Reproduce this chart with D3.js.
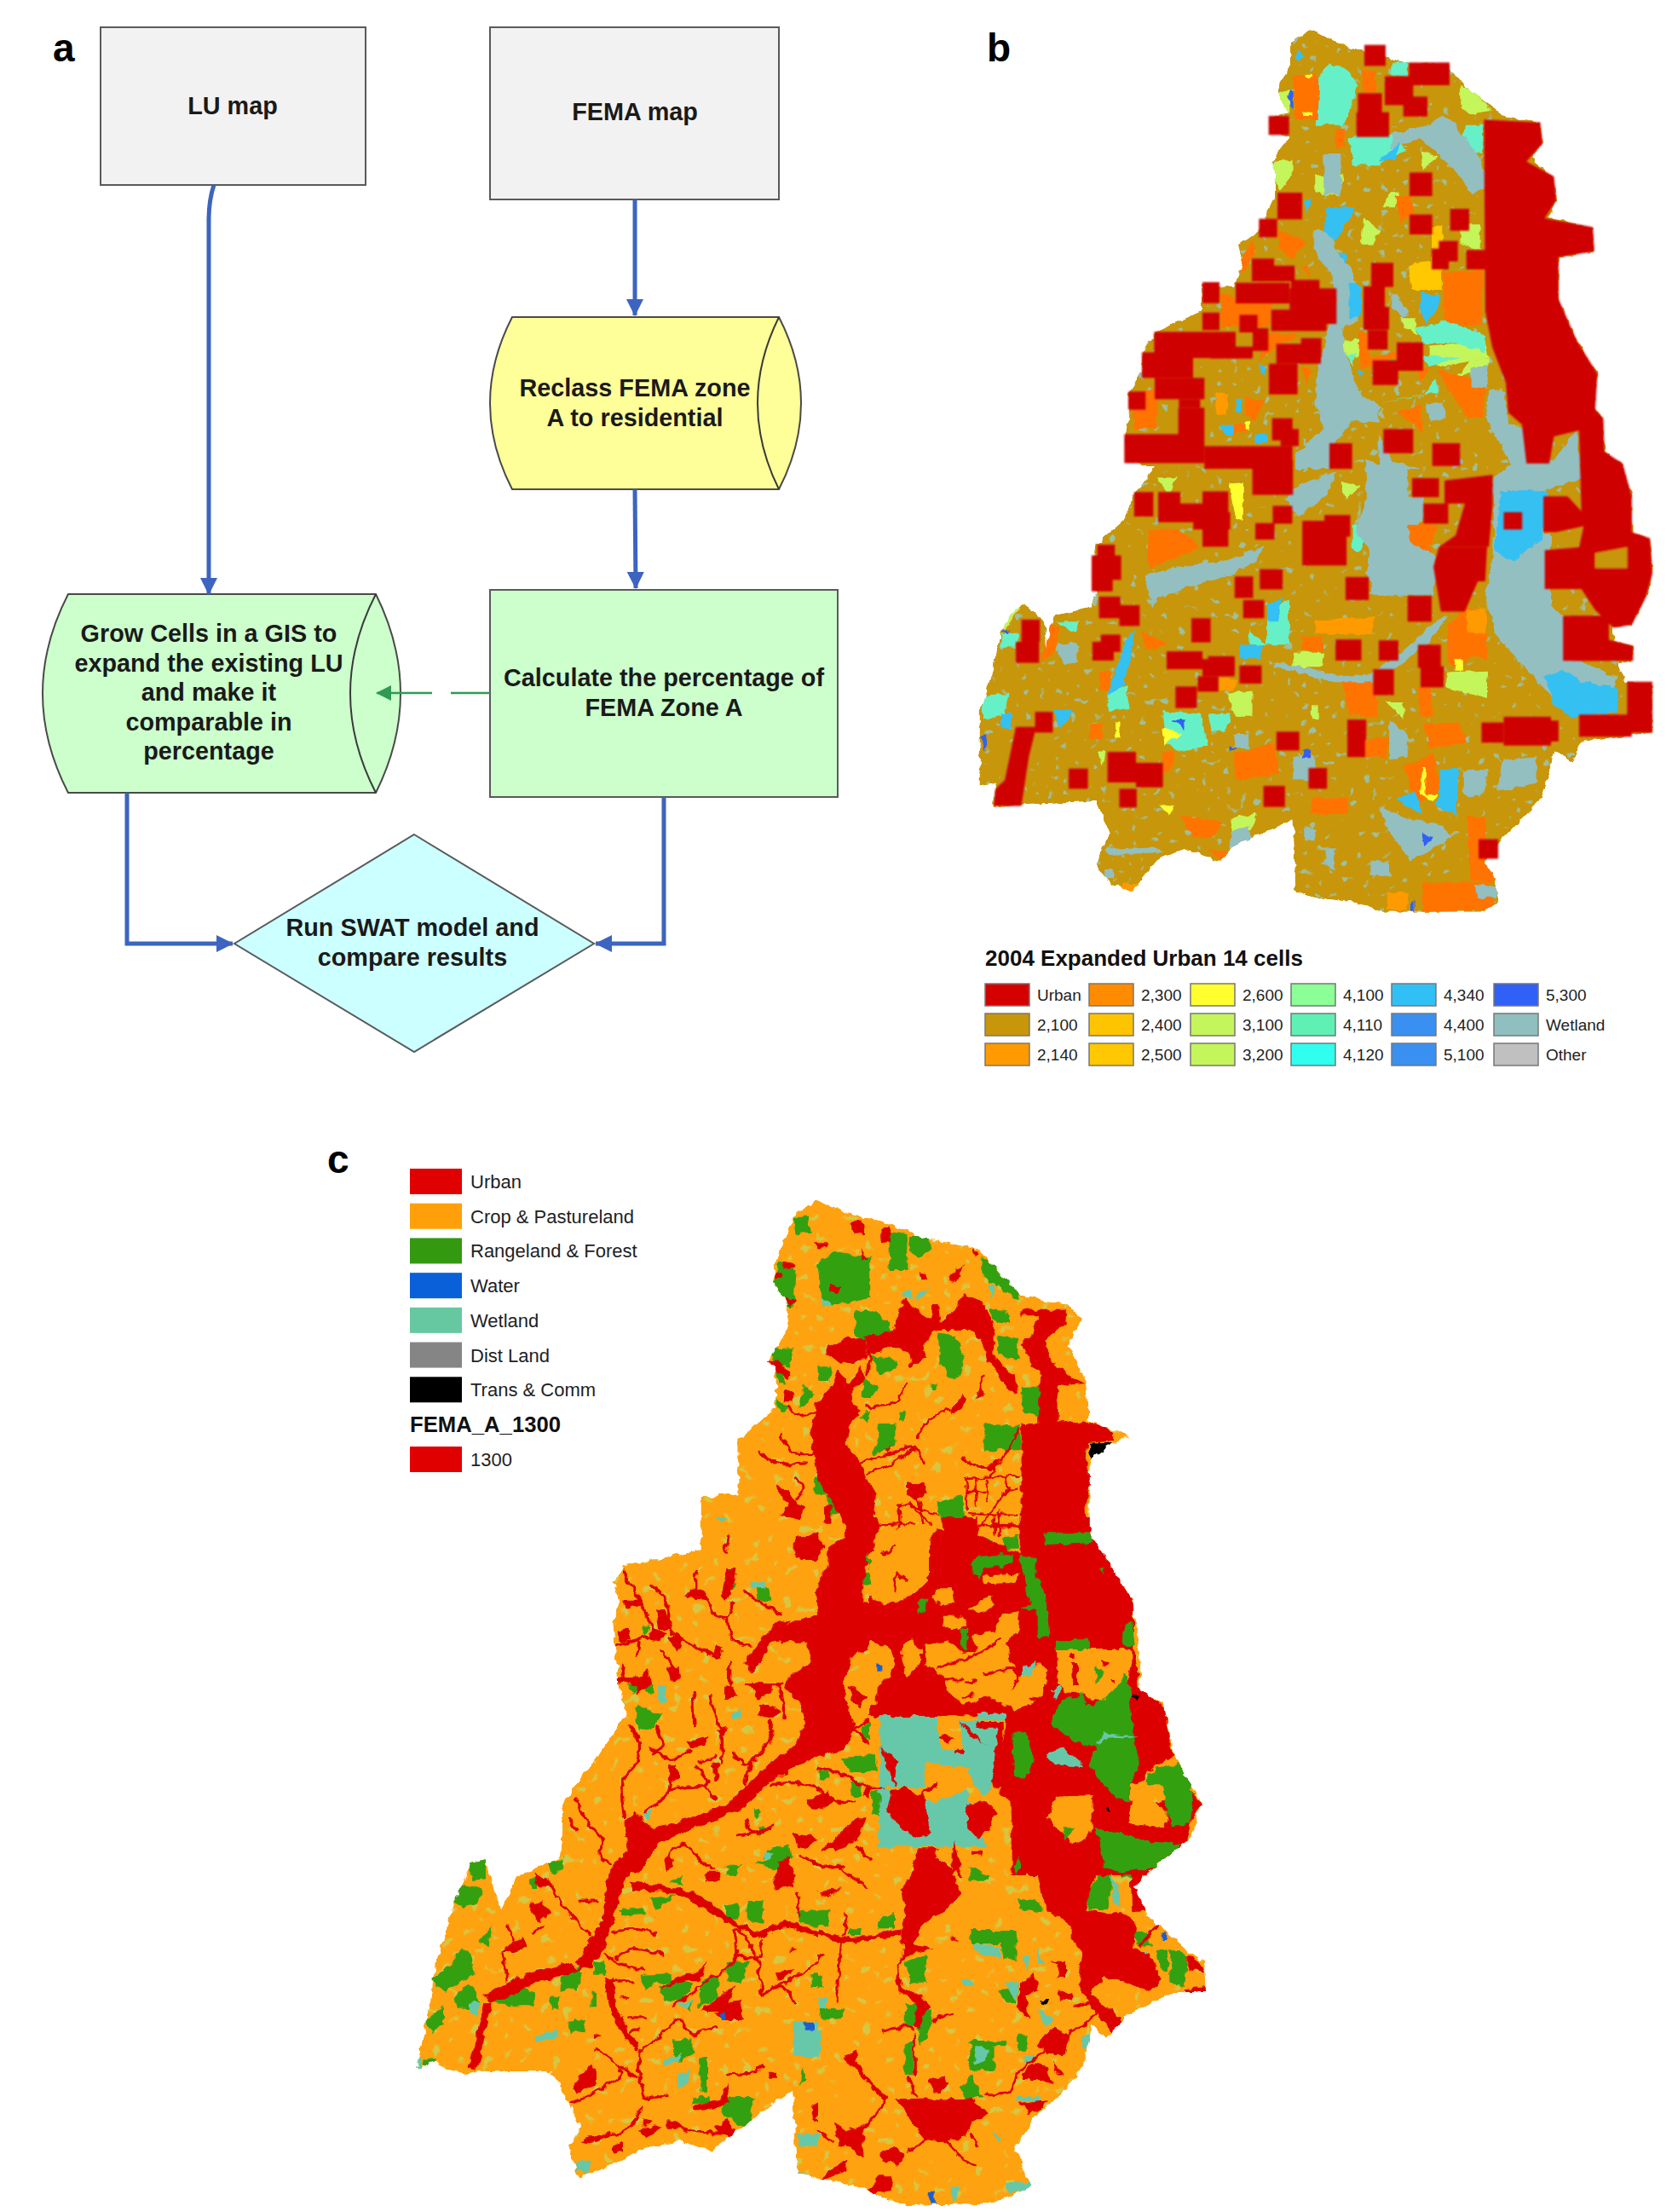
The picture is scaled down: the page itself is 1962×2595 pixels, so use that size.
<!DOCTYPE html>
<html>
<head>
<meta charset="utf-8">
<script src="https://cdn.jsdelivr.net/npm/d3@7"></script>
<style>
  body { margin: 0; background: #fff; }
  text { font-family: "Liberation Sans", Arial, sans-serif; }
</style>
</head>
<body>
<div id="chart"></div>
<script>
// legend tables
const legendBLabels = ['Urban', '2,100', '2,140', '2,300', '2,400', '2,500', '2,600', '3,100', '3,200', '4,100', '4,110', '4,120', '4,340', '4,400', '5,100', '5,300', 'Wetland', 'Other']
const legendBColors = ['#d40000', '#c8960a', '#ff9a00', '#ff8c00', '#ffc400', '#ffc800', '#ffff30', '#c4f55a', '#c4f55a', '#8cff96', '#5ff0b4', '#30fff0', '#30c0f5', '#3a90f0', '#3a90f0', '#3060f5', '#8fbfbf', '#c0c0c0']
const legendCLabels = ['Urban', 'Crop & Pastureland', 'Rangeland & Forest', 'Water', 'Wetland', 'Dist Land', 'Trans & Comm']
const legendCColors = ['#e00000', '#ffa00a', '#339910', '#0a60d8', '#66c8a0', '#858585', '#000000']

// ---- map b, whole map, in map units (0-1568 both ways) ----
const bOutline = [[735,70],[780,50],[830,70],[895,85],[940,95],[990,105],[1080,110],[1110,140],[1170,175],[1200,195],[1280,205],[1285,240],[1260,265],[1310,295],[1315,335],[1300,365],[1395,380],[1398,420],[1320,430],[1320,500],[1360,570],[1405,625],[1400,685],[1418,700],[1420,755],[1460,775],[1480,830],[1480,890],[1520,900],[1525,960],[1510,1000],[1480,1045],[1440,1050],[1440,1070],[1483,1080],[1483,1105],[1450,1110],[1465,1140],[1525,1145],[1525,1225],[1420,1235],[1370,1240],[1350,1275],[1310,1255],[1300,1290],[1280,1340],[1240,1370],[1190,1410],[1160,1440],[1180,1470],[1190,1510],[1150,1525],[1040,1525],[940,1525],[880,1510],[780,1500],[745,1490],[740,1370],[700,1385],[620,1410],[580,1440],[500,1420],[440,1440],[390,1490],[350,1480],[310,1450],[320,1420],[340,1395],[310,1340],[140,1345],[85,1350],[90,1310],[55,1315],[55,1190],[80,1130],[100,1060],[130,1020],[150,1010],[200,1040],[200,1085],[215,1030],[300,1015],[310,990],[300,960],[310,910],[370,870],[390,830],[420,800],[440,780],[375,770],[372,730],[385,680],[380,660],[410,620],[410,590],[440,555],[540,520],[540,475],[610,480],[630,440],[620,410],[665,385],[700,330],[700,290],[690,270],[730,230],[690,220],[690,195],[730,190],[705,150],[735,110]]
const bWetland = [[[1310,770],[1360,720],[1370,800],[1290,820],[1290,1000],[1340,1040],[1350,1100],[1440,1130],[1450,1190],[1370,1200],[1320,1180],[1240,1110],[1180,1060],[1170,980],[1180,890],[1175,800],[1250,760]]]
const bSky = [[[1210,820],[1290,820],[1285,900],[1220,940],[1180,920],[1190,840]],[[1290,1130],[1330,1120],[1370,1140],[1450,1150],[1450,1190],[1350,1200],[1310,1180]]]
const bUrbanCells = [[1470,1140,1525,1225],[1365,1195,1480,1232],[1290,1205,1320,1240],[1330,1030,1430,1105]]
const bUrbanShapes = [
  [[1157,200],[1280,205],[1285,240],[1250,270],[1310,295],[1315,335],[1290,365],[1395,380],[1398,420],[1320,430],[1320,500],[1360,570],[1405,625],[1400,685],[1418,700],[1420,755],[1460,775],[1480,830],[1480,890],[1520,900],[1525,960],[1510,1000],[1480,1045],[1440,1050],[1400,1020],[1370,985],[1290,985],[1290,920],[1365,915],[1375,880],[1315,890],[1287,890],[1287,830],[1340,830],[1370,855],[1365,720],[1310,730],[1300,775],[1250,775],[1240,710],[1210,690],[1205,640],[1175,580],[1160,520]],
  [[1345,1030],[1430,1030],[1430,1070],[1483,1080],[1483,1105],[1350,1105]]
]
const bBrownHoles = [[[1400,925],[1470,915],[1470,950],[1400,950]]]

// ---- map b, north crop ----
const bnLime = [[[590,240],[640,220],[640,310],[600,310]],[[580,480],[650,470],[650,530],[610,580],[570,520]],[[730,530],[830,520],[810,600],[730,590]],[[1240,210],[1290,230],[1350,300],[1280,310],[1240,290]],[[1240,700],[1310,700],[1310,790],[1240,770],[1240,745]],[[1130,1130],[1330,1110],[1340,1170],[1170,1200],[1130,1170]],[[1100,440],[1160,460],[1110,510]],[[830,1110],[890,1100],[880,1170],[830,1160]],[[1030,1030],[1080,1030],[1090,1090],[1050,1070]],[[900,680],[960,720],[930,770],[890,770]],[[990,590],[1030,580],[1010,640],[970,640]],[[1220,1240],[1280,1180],[1340,1170],[1340,1200]]]
const bnTeal = [[[720,220],[780,130],[850,160],[880,210],[860,280],[830,350],[735,350]],[[850,390],[1000,380],[1050,440],[950,490],[860,490]],[[1260,350],[1320,350],[1320,450],[1240,440]],[[1080,1060],[1200,1040],[1330,1090],[1330,1150],[1230,1120],[1110,1120]],[[1100,1160],[1240,1170],[1130,1200]],[[1000,130],[1055,130],[1055,180],[1000,175]],[[950,1330],[1120,1300],[1150,1240],[1160,1290],[1050,1310]],[[840,1160],[870,1160],[860,1200]]]
const bnOrange = [[[1180,870],[1320,860],[1315,1050],[1280,1060],[1180,1040]],[[650,180],[720,170],[745,190],[740,330],[660,330]],[[895,160],[945,160],[945,235],[895,235]],[[800,360],[835,360],[835,430],[800,430]],[[470,820],[510,750],[520,800],[470,880]],[[1010,600],[1060,600],[1080,660],[1030,690]],[[395,940],[450,960],[580,960],[570,1060],[400,1060]],[[570,1080],[680,1090],[590,1130],[530,1180]],[[680,1200],[720,1210],[700,1260]],[[880,1080],[920,1080],[920,1170],[1010,1150],[1020,1170],[890,1210]],[[1090,1210],[1140,1205],[1100,1260]],[[1160,1210],[1330,1260],[1320,1380],[1270,1380],[1210,1300]],[[490,1310],[550,1320],[520,1390],[480,1370]],[[90,1300],[180,1270],[170,1420],[90,1420]],[[440,1400],[490,1400],[490,1430],[440,1440]],[[600,720],[700,760],[650,820],[600,790]],[[1010,1360],[1100,1340],[1110,1430]],[[690,850],[710,850],[710,890]]]
const bnAmber = [[[380,1290],[420,1300],[420,1370],[380,1370]]]
const bnGold = [[[1060,840],[1140,830],[1140,710],[1180,710],[1175,930],[1065,930]]]
const bnYellow = [[[695,170],[720,170],[720,180],[695,180]],[[685,305],[720,305],[720,318],[685,318]],[[485,1395],[505,1390],[500,1425],[485,1420]]]
const bnWet = [[[1130,350],[1180,310],[1240,370],[1300,450],[1320,500],[1350,560],[1280,590],[1250,540],[1150,440],[1100,400],[1000,430],[1000,380]],[[740,1180],[830,1130],[880,1290],[960,1340],[950,1400],[860,1390],[800,1470],[780,1560],[660,1560],[660,1510],[760,1420],[730,1330]],[[720,720],[790,720],[800,790],[860,860],[880,960],[880,1040],[830,1060],[830,1130],[745,1190],[800,960],[790,880],[730,800]],[[760,450],[820,450],[820,600],[760,590]],[[1340,1280],[1400,1290],[1410,1400],[1480,1420],[1480,1560],[1430,1560],[1330,1380]],[[1000,940],[1020,950],[1060,1010],[1040,1030],[1000,990]],[[1280,1200],[1340,1200],[1330,1280],[1280,1270]],[[1120,1330],[1180,1330],[1190,1380],[1130,1390]],[[950,1440],[960,1560],[1100,1560],[1000,1530]],[[1210,1480],[1250,1540],[1210,1560]]]
const bnSky = [[[690,620],[715,610],[705,660]],[[770,640],[870,640],[850,680],[800,760],[760,720]],[[810,800],[840,800],[840,840]],[[850,900],[890,920],[890,1020],[850,1030]],[[950,480],[1030,410],[1010,470]],[[1100,940],[1170,950],[1160,1000],[1120,1050],[1100,1000]],[[400,1410],[440,1400],[440,1440],[410,1440]],[[520,1440],[560,1430],[560,1470],[520,1470]],[[450,1310],[470,1310],[470,1360],[450,1360]],[[670,90],[690,110],[670,130],[655,110]],[[530,1190],[550,1200],[550,1240]],[[880,1210],[900,1220],[890,1240]]]
const bnBlue = [[[635,220],[650,230],[650,290],[640,280]]]
const bnCells = [[903,68,978,142],[1060,130,1203,210],[975,178,1075,280],[1040,250,1125,320],[880,238,965,320],[875,305,990,392],[566,318,638,385],[1062,517,1142,600],[597,588,684,682],[532,680,596,745],[1062,665,1142,735],[1205,645,1272,722],[1165,758,1232,830],[1140,785,1200,858],[1262,790,1330,858],[927,835,1005,920],[507,820,585,900],[585,845,658,900],[450,905,640,978],[333,903,393,977],[333,1010,393,1072],[645,895,745,960],[640,925,805,1050],[575,1000,770,1075],[463,1018,527,1080],[510,1065,565,1145],[163,1078,450,1170],[360,1130,510,1172],[120,1150,300,1240],[165,1240,340,1315],[593,1120,750,1190],[680,1100,752,1165],[567,1190,668,1298],[72,1288,133,1352],[250,1315,325,1345],[900,918,975,1070],[900,990,990,1070],[915,1072,985,1140],[1017,1115,1110,1215],[932,1178,1022,1265],[248,1345,340,1440],[578,1382,650,1460],[608,1420,672,1480],[58,1438,340,1540],[340,1480,650,1560],[970,1420,1075,1505],[780,1470,860,1560],[1142,1470,1240,1550]]

// ---- map b, south crop ----
const bsLime = [[[500,60],[560,60],[530,110]],[[870,665],[955,665],[950,720],[870,720]],[[690,810],[760,800],[760,890],[715,890]],[[1285,735],[1395,730],[1395,825],[1285,790]],[[920,850],[940,850],[940,900],[920,900]],[[60,520],[130,510],[90,590]],[[1000,70],[1050,90],[1010,140]],[[700,1240],[770,1230],[760,1280],[700,1290]],[[1120,840],[1170,840],[1170,900]],[[340,1010],[360,1010],[355,1060]]]
const bsTeal = [[[1030,220],[1075,230],[1050,320],[1030,310]],[[520,870],[620,880],[640,990],[560,1010],[520,980]],[[80,600],[130,600],[120,650],[80,650]],[[30,820],[100,810],[90,880],[30,900]],[[800,540],[860,480],[860,640],[800,640]],[[370,810],[420,780],[430,860],[370,870]],[[640,880],[700,880],[690,940],[650,940]],[[750,590],[800,640],[750,640]],[[230,560],[290,560],[280,600]]]
const bsOrange = [[[475,240],[560,240],[620,300],[530,350],[480,370]],[[1180,220],[1260,225],[1240,300],[1250,330],[1220,360],[1200,330],[1180,320]],[[1290,570],[1340,510],[1395,520],[1395,690],[1350,680],[1310,720],[1285,700]],[[895,610],[950,610],[950,660],[895,660]],[[1000,760],[1090,750],[1100,895],[1020,880]],[[1225,915],[1320,910],[1340,980],[1240,1000]],[[710,1020],[820,980],[830,1060],[830,1090],[715,1110]],[[920,1170],[1020,1170],[1020,1225],[920,1225]],[[1060,970],[1130,960],[1120,1030],[1060,1030]],[[1170,1060],[1250,1020],[1270,1140],[1200,1200]],[[1340,1230],[1390,1240],[1400,1400],[1420,1465],[1350,1460]],[[1220,1465],[1400,1465],[1420,1560],[1220,1568]],[[350,730],[375,730],[375,800],[345,800]],[[560,1230],[680,1260],[650,1310],[600,1310]],[[640,1350],[700,1360],[670,1390]],[[460,590],[530,640],[470,660]],[[320,915],[355,915],[355,970],[320,970]],[[520,1010],[550,1010],[540,1080],[515,1080]],[[1210,790],[1240,790],[1250,890],[1215,890]],[[210,570],[240,580],[225,670],[190,700]]]
const bsAmber = [[[930,555],[1090,545],[1085,610],[930,600]],[[670,750],[720,760],[710,800],[670,800]],[[410,1470],[450,1470],[430,1505],[405,1490]],[[1125,1500],[1180,1500],[1180,1560],[1125,1560]],[[1340,520],[1395,510],[1395,600],[1340,600]]]
const bsYellow = [[[695,80],[735,80],[735,210],[715,200]],[[515,930],[570,950],[520,985]],[[1310,690],[1330,690],[1330,730],[1310,730]],[[1220,1065],[1230,1065],[1225,1160],[1215,1160]],[[510,1190],[550,1200],[530,1235]],[[390,910],[400,910],[400,965],[390,965]],[[1215,1160],[1260,1160],[1250,1185]]]
const bsWet = [[[1065,0],[1180,30],[1180,120],[1225,130],[1220,215],[1180,230],[1190,290],[1260,330],[1250,470],[1170,470],[1090,470],[1070,400],[1075,300],[1040,250],[1070,130]],[[1420,280],[1568,250],[1568,720],[1480,700],[1410,560],[1390,490],[1400,400]],[[860,100],[960,50],[990,40],[960,120],[890,190],[860,170]],[[470,400],[560,370],[680,350],[790,300],[770,350],[700,400],[580,440],[500,480],[490,520]],[[230,640],[285,630],[290,700],[250,710]],[[820,700],[900,720],[1000,750],[1080,740],[1180,650],[1240,580],[1270,550],[1290,540],[1230,640],[1100,770],[980,770],[870,730],[820,720]],[[1100,1200],[1170,1240],[1280,1270],[1300,1310],[1220,1370],[1190,1390],[1130,1290]],[[870,1030],[930,1020],[930,1110],[870,1110]],[[1330,1080],[1400,1070],[1380,1170],[1330,1160]],[[1440,1040],[1530,1030],[1530,1120],[1420,1150]],[[710,950],[750,950],[750,1000],[715,1000]],[[1130,900],[1180,950],[1180,1030],[1130,1040]],[[360,1350],[500,1340],[520,1360],[370,1370]],[[700,1290],[750,1270],[760,1330],[700,1350]],[[360,1420],[385,1420],[385,1450],[360,1450]],[[1080,1390],[1130,1390],[1130,1440],[1080,1440]],[[960,1350],[985,1350],[985,1420],[950,1400]],[[900,1270],[930,1280],[930,1320],[900,1320]],[[1360,1470],[1420,1480],[1420,1520],[1370,1520]]]
const bsSky = [[[1430,110],[1560,110],[1560,200],[1500,280],[1440,280]],[[800,500],[840,480],[830,560],[800,560]],[[380,760],[420,620],[440,590],[430,700],[410,780],[370,820]],[[220,870],[280,870],[240,930]],[[80,880],[110,880],[105,930],[80,930]],[[725,640],[790,640],[780,690],[725,690]],[[1270,1070],[1320,1070],[1310,1240],[1260,1200]],[[1150,1180],[1200,1150],[1220,1230]]]
const bsBlue = [[[1218,1290],[1250,1310],[1225,1340]],[[895,1005],[918,1005],[918,1033],[895,1033]],[[545,900],[575,900],[575,935]],[[700,985],[720,1000],[700,1005]],[[1190,1530],[1198,1530],[1198,1568],[1190,1568]],[[80,590],[105,590],[100,605]],[[25,960],[45,950],[35,1010]]]
const bsCells = [[440,110,492,195],[505,110,565,215],[565,150,625,215],[625,108,695,300],[600,180,700,240],[815,158,868,220],[768,218,820,275],[895,210,1015,365],[955,190,1025,265],[340,293,388,370],[325,330,405,415],[325,380,382,455],[345,473,403,548],[400,503,455,575],[712,403,762,478],[780,378,842,448],[735,485,792,548],[1012,405,1075,485],[1180,470,1245,560],[135,553,185,630],[120,630,183,703],[350,605,403,665],[327,630,385,695],[595,548,647,632],[528,663,625,725],[625,690,712,750],[640,680,712,740],[612,750,668,803],[725,712,785,775],[552,785,610,860],[985,622,1055,695],[1102,625,1155,695],[1087,725,1143,815],[1208,640,1270,720],[1215,715,1278,788],[1017,900,1068,970],[1017,965,1065,1030],[825,942,887,1007],[172,873,220,945],[368,1012,445,1118],[445,1050,518,1135],[263,1070,315,1140],[400,1140,447,1205],[790,1130,848,1203],[912,1068,962,1140],[1372,1315,1425,1383],[1192,62,1265,128],[1223,150,1290,220],[1440,180,1490,240],[1380,910,1440,980],[1440,890,1568,990],[760,0,870,120]]
const bsShapes = [[[1265,300],[1395,300],[1390,420],[1370,420],[1335,525],[1270,525],[1250,370]],[[1280,70],[1410,50],[1410,155],[1400,300],[1265,300],[1310,260],[1335,150],[1280,150]],[[120,925],[175,925],[155,1030],[135,1200],[60,1200],[65,1140],[90,1110]]]

// ---- map c, whole outline in map units (0-1568 both ways) ----
const cOutline = [[755,60],[795,35],[850,55],[930,70],[1000,95],[1100,110],[1180,180],[1270,195],[1295,215],[1270,255],[1305,315],[1310,370],[1385,392],[1340,410],[1310,430],[1310,540],[1350,590],[1390,640],[1405,730],[1405,780],[1450,800],[1470,880],[1520,950],[1500,1000],[1440,1040],[1395,1075],[1420,1120],[1490,1170],[1525,1190],[1528,1235],[1470,1235],[1380,1270],[1340,1305],[1315,1285],[1300,1340],[1270,1380],[1210,1420],[1170,1470],[1200,1530],[1130,1555],[955,1558],[880,1530],[760,1510],[752,1385],[690,1420],[600,1475],[540,1460],[480,1470],[400,1500],[350,1515],[330,1470],[355,1440],[330,1400],[300,1355],[160,1355],[130,1360],[80,1340],[45,1350],[70,1260],[80,1200],[115,1100],[150,1040],[175,1035],[205,1110],[235,1060],[315,1030],[320,990],[320,950],[385,880],[440,810],[425,770],[415,680],[425,640],[415,615],[435,590],[580,565],[580,485],[650,480],[650,400],[720,350],[720,290],[705,280],[745,230],[740,190],[715,160],[720,130]]
const cTrans = [[[1310,405],[1355,403],[1340,420],[1312,430]]]

// ---- map c, north east crop ----
const neGreen = [[[150,80],[200,80],[205,140],[155,145]],[[470,130],[540,150],[535,270],[475,270]],[[545,150],[610,150],[620,195],[575,225],[545,205]],[[785,225],[850,260],[925,340],[915,375],[860,340],[795,290]],[[100,240],[155,270],[150,400],[90,395],[80,320]],[[230,250],[290,200],[350,220],[410,220],[410,370],[250,400]],[[360,420],[425,410],[470,450],[490,500],[440,560],[360,500]],[[640,490],[700,500],[730,580],[720,640],[690,655],[650,600]],[[75,545],[150,540],[135,610],[80,600]],[[90,620],[120,625],[120,670],[95,670]],[[230,610],[275,610],[270,660],[235,660]],[[380,650],[440,680],[420,720],[380,720]],[[180,670],[220,710],[190,740],[165,760]],[[90,720],[130,750],[125,770],[100,770]],[[300,710],[335,720],[330,750],[305,755]],[[370,790],[410,760],[400,810]],[[440,810],[495,810],[495,880],[470,900],[420,920],[440,850]],[[800,810],[920,820],[925,900],[800,905]],[[815,405],[880,420],[880,460],[830,450]],[[840,500],[915,510],[915,580],[850,570]],[[925,680],[985,680],[990,780],[930,770]],[[220,1000],[255,1005],[255,1060],[225,1060]],[[255,1060],[310,1080],[315,1125],[280,1130]],[[640,1085],[725,1065],[730,1170],[690,1210],[650,1160]],[[1010,1195],[1170,1195],[1170,1235],[1005,1240]],[[780,1210],[830,1220],[830,1260],[780,1260]],[[860,1210],[915,1205],[915,1250],[860,1250]],[[930,1205],[990,1205],[930,1235]],[[410,570],[490,580],[500,610],[440,640]],[[510,770],[535,770],[530,805],[505,805]],[[615,670],[635,665],[635,690],[615,690]]]
const neWet = [[[520,340],[550,340],[550,365],[520,365]],[[570,350],[610,330],[570,380]],[[810,320],[830,320],[820,370]],[[240,360],[290,400],[250,400]],[[960,900],[990,880],[990,940],[950,960]],[[980,1090],[1020,1100],[1020,1130],[990,1120]],[[960,810],[990,820],[985,850],[960,840]]]
const neRed = [[[530,370],[550,400],[610,440],[620,390],[640,390],[650,450],[700,410],[730,355],[770,370],[800,390],[830,460],[835,570],[880,630],[905,640],[915,710],[880,690],[850,640],[810,590],[790,520],[750,480],[640,480],[590,530],[600,580],[550,610],[540,560],[470,540],[440,560],[400,570],[390,500],[490,490],[500,430]],[[260,545],[320,510],[390,510],[400,570],[350,600],[300,590],[260,570]],[[225,740],[280,680],[300,620],[340,670],[380,600],[395,650],[350,690],[350,740],[380,770],[340,810],[330,880],[385,960],[395,1000],[430,1060],[420,1130],[435,1180],[420,1260],[340,1260],[325,1230],[325,1170],[290,1110],[240,1030],[220,950],[205,820],[220,790]],[[925,410],[1080,410],[1075,460],[1000,520],[1030,590],[1090,640],[1145,670],[1050,675],[1050,800],[1190,810],[1240,840],[1240,870],[1150,880],[1145,960],[1165,1000],[1145,1090],[1150,1190],[1005,1190],[925,1200],[925,810],[985,810],[985,680],[1000,640],[950,590],[925,530],[960,500],[985,430],[925,430]],[[620,1200],[640,1180],[700,1210],[760,1190],[780,1260],[610,1260]],[[90,1030],[130,1040],[160,1090],[190,1110],[170,1150],[100,1130],[130,1100],[100,1060]],[[540,1020],[590,1020],[600,1060],[570,1080],[540,1060]],[[250,1100],[280,1100],[280,1160],[250,1160]],[[690,750],[730,700],[735,740],[700,770],[680,770]],[[770,700],[795,680],[790,710],[775,725]],[[150,1210],[215,1210],[240,1260],[150,1260]],[[55,590],[100,590],[135,630],[130,650],[80,620]],[[120,690],[145,700],[150,730],[115,730]],[[445,130],[475,115],[480,170],[450,175]],[[85,280],[105,280],[105,300],[85,300]],[[120,370],[155,375],[140,395],[115,385]],[[110,240],[150,250],[140,270],[115,265]],[[580,280],[600,285],[605,310],[585,305]],[[680,290],[725,250],[715,290],[690,310]],[[345,110],[385,90],[390,140],[350,145]],[[220,175],[265,175],[260,190],[225,190]],[[270,320],[310,330],[300,350],[270,350]],[[380,190],[400,230],[385,240]],[[760,190],[780,215],[765,225]],[[460,900],[480,890],[470,915]]]
const neRivers = [[[130,750],[170,780],[220,770]],[[400,750],[500,730],[530,670]],[[380,945],[470,920],[560,895],[590,950]],[[400,985],[470,960],[560,895]],[[570,860],[620,790],[680,760]],[[780,710],[800,640]],[[35,915],[90,950],[190,950]],[[105,850],[140,910],[220,915]],[[400,640],[410,570]],[[160,1000],[180,1040],[160,1070]],[[725,930],[770,960],[830,960],[860,930]],[[860,930],[920,830]]]
const neRoads = [[[735,1005],[915,995]],[[735,1005],[740,1110]],[[770,1010],[775,1100]],[[735,1050],[810,1050]],[[810,1010],[805,1080]],[[870,1000],[880,1040],[915,1040]],[[880,1040],[820,1120],[790,1170]],[[750,1130],[915,1130]],[[790,1170],[915,1165]],[[850,1120],[850,1200]],[[830,960],[820,1000]],[[500,1090],[640,1130]],[[540,1090],[620,1170]],[[570,1070],[590,1160]],[[510,1090],[510,1170],[470,1180]],[[440,1170],[560,1160]],[[925,970],[1040,1090],[1140,1090]]]

// ---- map c, west middle crop ----
const wmGreen = [[[325,660],[350,670],[380,690],[410,690],[380,740],[330,750],[315,720]],[[290,590],[320,580],[335,600],[310,630]],[[350,590],[380,590],[375,620],[350,620]],[[740,230],[780,250],[800,300],[750,290]],[[1095,180],[1140,190],[1150,240],[1100,230]],[[1100,120],[1140,120],[1140,180]],[[1040,850],[1160,830],[1170,890],[1080,900]],[[960,890],[1000,890],[1000,920],[965,925]],[[1070,930],[1110,930],[1110,980],[1080,980]],[[1150,970],[1200,950],[1200,1060],[1150,1040]],[[780,1170],[860,1150],[870,1200],[800,1230],[770,1200]],[[10,1210],[60,1200],[70,1240],[20,1260]],[[650,1220],[680,1220],[670,1260],[640,1260]],[[1110,740],[1140,720],[1140,780],[1120,790]],[[730,1020],[760,1040],[740,1060]],[[345,385],[365,385],[355,420]],[[750,1090],[770,1090],[760,1120]],[[645,230],[670,230],[660,265]]]
const wmWet = [[[1170,710],[1200,700],[1200,1150],[1175,1160],[1170,960],[1190,840]],[[340,1050],[380,1030],[370,1070]],[[395,590],[425,590],[420,650],[400,650]],[[720,230],[770,220],[770,250],[730,250]],[[660,680],[690,670],[690,710],[660,710]],[[600,0],[640,0],[620,20]],[[770,1180],[800,1180],[780,1240]]]
const wmRed = [[[1000,100],[1060,70],[1080,0],[1170,0],[1180,40],[1140,120],[1120,220],[1120,300],[1200,310],[1200,430],[1080,490],[1050,580],[1060,650],[1090,750],[1050,820],[960,840],[880,880],[780,940],[700,1020],[620,1060],[480,1110],[400,1150],[330,1250],[230,1260],[290,1170],[280,1070],[320,1040],[370,1090],[440,1080],[560,1040],[640,1010],[690,960],[780,880],[880,800],[910,720],[900,660],[840,600],[860,560],[940,510],[920,440],[830,440],[800,400],[850,380],[960,340],[950,260],[990,180]],[[700,510],[760,430],[820,360],[860,370],[840,420],[790,450],[760,510],[720,545]],[[880,90],[960,50],[980,100],[960,150],[900,150],[880,130]],[[270,290],[330,290],[340,310],[280,325]],[[390,320],[420,320],[440,390],[400,400]],[[255,400],[290,395],[300,430],[265,440]],[[370,390],[430,410],[400,430],[365,425]],[[435,420],[490,420],[470,470],[445,450]],[[430,530],[470,530],[475,570],[440,575]],[[640,180],[670,180],[660,240],[640,300],[620,270]],[[600,450],[625,460],[620,495],[590,490]],[[510,260],[560,260],[580,290],[490,280]],[[730,590],[800,590],[800,610],[745,640]],[[750,660],[800,660],[830,690],[790,710],[750,700]],[[630,600],[660,595],[680,630],[630,640]],[[600,750],[640,740],[620,790]],[[490,790],[570,770],[570,800],[510,810]],[[440,880],[465,870],[465,925],[440,930]],[[590,860],[610,860],[610,930],[595,930]],[[1070,590],[1130,630],[1110,670],[1080,640]],[[920,1000],[1000,960],[1020,1000],[970,1030],[930,1020]],[[1010,1140],[1090,1060],[1130,1060],[1100,1130],[1030,1170],[970,1170]],[[870,1110],[930,1120],[960,1130],[910,1170],[880,1150]],[[820,1210],[860,1200],[870,1260],[820,1260]],[[1120,950],[1150,950],[1140,990],[1120,980]],[[420,1210],[440,1170],[450,1230],[430,1240]],[[250,560],[340,560],[360,530],[370,590],[320,630],[320,590],[250,580]]]
const wmRivers = [[[275,190],[340,310],[380,400]],[[375,240],[430,310],[440,400],[500,440],[600,490]],[[530,190],[530,260]],[[500,270],[570,280],[600,350],[640,350],[660,300]],[[640,350],[660,430],[720,450]],[[650,510],[650,590]],[[520,610],[525,740]],[[580,630],[600,700],[620,760],[620,860]],[[700,260],[760,300],[830,340]],[[250,450],[370,420]],[[330,440],[320,490]],[[410,470],[450,530]],[[270,520],[280,560]],[[300,740],[330,790],[320,860],[270,930],[280,1060]],[[370,810],[440,850],[510,820]],[[440,880],[430,970],[350,1040]],[[440,960],[560,950],[600,990]],[[530,880],[570,930],[560,950]],[[600,840],[540,860]],[[660,830],[710,870],[770,810],[800,760],[790,720]],[[700,940],[720,870]],[[110,990],[140,1060],[200,1140],[190,1190],[230,1220]],[[80,1060],[110,1100]],[[390,740],[410,810],[380,830]],[[1090,750],[1160,810]],[[1090,740],[1170,700]],[[630,120],[650,70]],[[440,1170],[490,1150],[540,1200],[590,1240]],[[800,940],[930,940],[1020,1000],[1090,1000]],[[960,880],[1060,910],[1130,950],[1190,950]],[[710,1070],[730,1110],[800,1085]],[[680,1120],[730,1110]],[[1100,1160],[1140,1200]],[[900,1190],[980,1230],[1050,1230]],[[820,590],[840,660],[840,710]],[[700,590],[830,590]]]

// ---- map c, east middle crop, drawn in this order: belt, islands, green, wetland, details ----
const emBelt = [[[0,280],[60,310],[160,270],[210,200],[210,100],[260,60],[250,0],[380,0],[380,60],[530,130],[530,0],[775,0],[930,300],[930,430],[950,600],[1040,670],[1070,840],[1000,880],[960,930],[920,940],[920,1000],[1000,1000],[1040,1000],[1130,960],[1170,1010],[1130,1080],[1110,1160],[1060,1260],[500,1260],[500,1010],[460,960],[480,700],[0,700]],[[0,0],[20,0],[20,80],[0,140]]]
const emIslands = [[[20,60],[60,30],[130,40],[200,110],[205,220],[160,260],[70,300],[20,280],[5,200]],[[0,440],[60,450],[90,500],[70,560],[30,590],[25,660],[0,660]],[[120,450],[150,430],[180,470],[180,520],[130,560],[115,500]],[[190,450],[280,430],[330,480],[380,470],[360,420],[440,400],[470,340],[530,330],[520,400],[480,440],[500,510],[530,560],[600,510],[630,540],[610,620],[570,660],[510,680],[420,630],[330,660],[280,620],[260,560],[200,520]],[[240,250],[290,250],[300,300],[250,310],[220,280]],[[350,320],[430,270],[440,310],[390,340]],[[260,350],[330,350],[340,380],[290,400],[255,380]],[[400,205],[530,200],[520,230],[410,235]],[[660,465],[925,465],[925,520],[905,600],[830,650],[770,640],[740,620],[690,620],[665,580]],[[625,1060],[660,980],[785,975],[785,1090],[770,1130],[720,1150],[680,1110]],[[925,965],[1000,950],[1000,1000],[1050,1040],[1040,1090],[920,1080]],[[0,700],[35,700],[35,830],[0,810]],[[200,860],[310,880],[360,950],[240,1000],[200,950]],[[330,800],[400,840],[400,890],[350,880]]]
const emGreen = [[[530,135],[590,140],[590,210],[620,260],[635,420],[590,425],[590,330],[530,320],[570,300],[545,230]],[[360,150],[420,130],[510,130],[500,170],[400,180],[390,210],[365,200]],[[620,55],[790,55],[785,90],[620,100]],[[885,400],[925,370],[935,450],[895,450]],[[650,430],[775,430],[775,465],[660,465]],[[165,300],[205,280],[200,330],[170,335]],[[320,390],[350,390],[340,470],[325,460]],[[810,180],[830,180],[820,200]],[[640,730],[670,650],[750,620],[760,660],[800,660],[870,600],[900,550],[920,600],[925,730],[950,850],[920,940],[920,1000],[870,990],[820,930],[770,870],[800,810],[720,790]],[[505,760],[550,760],[580,850],[550,930],[510,910]],[[965,930],[1010,880],[1090,870],[1130,930],[1140,1000],[1130,1080],[1060,1090],[1040,1000],[1030,950]],[[790,1095],[920,1120],[980,1140],[1090,1150],[1040,1230],[900,1250],[830,1230],[810,1130]],[[680,1090],[720,1090],[690,1140]],[[0,830],[25,850],[20,890],[0,880]],[[10,960],[50,990],[30,1040],[10,1020]],[[525,1190],[530,1220],[520,1260],[510,1230]],[[795,520],[830,550],[800,585]]]
const emWet = [[[35,700],[240,700],[240,770],[260,820],[330,820],[320,715],[460,720],[450,890],[430,960],[400,980],[360,920],[350,880],[310,880],[200,860],[200,950],[40,950]],[[40,950],[190,990],[240,1000],[340,960],[410,1160],[30,1160]],[[380,690],[480,690],[480,715],[380,715]],[[620,840],[680,810],[760,880],[650,870]],[[540,530],[580,510],[580,560],[540,560]],[[640,610],[680,590],[660,640]],[[830,760],[950,770],[830,780],[800,800]]]
const emRed = [[[80,960],[130,950],[170,980],[240,930],[240,950],[190,975],[215,1110],[170,1130],[120,1100],[60,1040]],[[345,1010],[420,1000],[450,1040],[420,1100],[380,1130],[345,1090]],[[380,720],[470,720],[480,930],[440,960],[430,890],[455,740],[380,740]],[[240,770],[270,760],[300,780],[280,790],[240,780]],[[320,720],[400,790],[450,810],[350,770]],[[40,810],[100,860],[90,950],[70,900]],[[300,815],[330,815],[330,830],[300,830]],[[170,1165],[240,1165],[220,1260],[150,1260]],[[300,1140],[320,1230],[290,1260],[290,1180]],[[360,1175],[400,1175],[400,1190],[360,1190]],[[710,510],[735,510],[735,590],[715,590]],[[820,500],[840,510],[830,530]],[[700,480],[725,480],[725,492],[700,492]],[[850,570],[865,570],[860,590]]]
const emRivers = [[[240,530],[330,500],[400,470],[460,430]],[[410,550],[520,540],[510,600]],[[260,570],[330,570]],[[340,580],[370,575]],[[330,640],[370,620]],[[50,130],[90,100]],[[130,220],[100,200],[90,260]],[[380,30],[530,30]],[[440,0],[440,60]],[[570,640],[670,650]]]
const emWater = [[[28,518],[52,518],[52,545],[28,545]]]
const emBlack = [[[925,622],[950,622],[950,636],[925,636]],[[838,1020],[850,1020],[850,1030],[838,1030]]]

// ---- map c, south west crop ----
const swGreen = [[[215,20],[270,0],[270,70],[220,75]],[[160,150],[180,90],[265,115],[240,160],[190,180]],[[245,300],[290,235],[280,310]],[[85,420],[130,390],[190,310],[220,340],[230,410],[170,440],[130,470],[95,450]],[[60,570],[120,520],[120,580],[80,620]],[[160,490],[210,440],[250,500],[210,530],[170,530]],[[45,710],[95,705],[90,730],[50,740]],[[290,470],[380,450],[440,470],[440,520],[340,520],[290,500]],[[530,420],[600,380],[610,420],[590,460],[530,470]],[[650,370],[690,360],[695,410],[650,410]],[[640,470],[660,470],[660,520],[640,520]],[[490,490],[530,480],[525,530],[500,530]],[[555,575],[620,570],[620,610],[570,615]],[[820,410],[920,405],[920,440],[870,440],[830,470]],[[880,450],[970,430],[1000,440],[960,500],[900,500]],[[1030,430],[1090,410],[1090,490],[1020,530]],[[1115,370],[1195,360],[1170,440],[1120,430]],[[850,140],[940,130],[870,185]],[[1115,170],[1160,160],[1160,210],[1120,220]],[[1190,150],[1250,150],[1240,230],[1190,220]],[[1360,185],[1440,185],[1440,240],[1370,230]],[[1220,20],[1290,0],[1340,0],[1300,40]],[[1110,30],[1170,20],[1150,60]],[[920,80],[960,60],[960,100]],[[425,80],[450,70],[450,105],[430,105]],[[960,510],[1000,500],[990,540]],[[930,640],[960,640],[1000,630],[1000,690],[960,720],[930,690]],[[1020,700],[1050,700],[1050,830],[1025,830]],[[1130,840],[1215,840],[1195,950],[1100,900],[1100,870]],[[1000,840],[1060,840],[1050,860],[1000,865]],[[1415,400],[1440,400],[1440,450],[1415,450]],[[1385,730],[1400,780],[1380,800]],[[740,180],[830,175],[830,195],[750,200]]]
const swWet = [[[445,625],[520,610],[530,630],[450,645]],[[890,720],[960,680],[950,710],[900,730]],[[945,770],[990,740],[985,790],[950,810]],[[1355,575],[1440,575],[1440,700],[1355,700]],[[580,1070],[640,1070],[630,1105],[590,1100]],[[1360,1100],[1395,1110],[1395,1150],[1365,1160]],[[1370,970],[1440,970],[1440,1010],[1375,1010]],[[20,710],[40,700],[40,740],[25,745]],[[210,510],[250,500],[240,550],[210,550]],[[940,510],[1000,500],[980,530]]]
const swRed = [[[700,50],[740,0],[820,0],[760,80],[720,220],[690,310],[640,380],[600,395],[590,360],[630,300],[680,220]],[[570,370],[600,395],[510,420],[440,440],[390,470],[330,490],[285,510],[265,480],[350,440],[430,400],[500,385]],[[265,510],[290,510],[240,740],[210,740]],[[445,50],[490,75],[510,100],[460,100],[445,90]],[[430,160],[470,145],[495,195],[460,225],[430,195]],[[340,310],[400,280],[420,315],[370,330],[330,330]],[[405,415],[440,405],[450,440],[410,440]],[[780,80],[900,100],[1000,120],[1080,170],[1160,230],[1240,260],[1320,215],[1440,260],[1440,275],[1330,240],[1240,280],[1160,250],[1060,190],[980,140],[900,120],[780,110]],[[1040,50],[1090,50],[1095,75],[1040,80]],[[1300,40],[1340,20],[1360,60],[1350,95],[1290,110],[1280,80]],[[690,420],[720,420],[730,520],[780,620],[810,670],[790,670],[740,600],[700,520]],[[1080,550],[1120,510],[1165,500],[1180,570],[1110,570]],[[1025,540],[1090,490],[1150,450],[1110,540]],[[890,450],[970,410],[1010,410],[1050,360],[1020,430],[970,430],[890,460]],[[570,810],[640,720],[660,750],[660,790],[590,830]],[[600,990],[700,965],[720,970],[640,1005]],[[710,1020],[750,1000],[750,1030],[720,1040]],[[1000,870],[1090,850],[1120,790],[1130,860],[1050,885],[1000,890]],[[1080,950],[1120,915],[1130,950],[1160,965],[1130,980],[1090,965]],[[805,960],[860,940],[890,950],[830,985]],[[830,910],[855,920],[830,950]],[[1290,400],[1360,390],[1300,435]],[[650,615],[680,625],[650,640]],[[1340,310],[1360,310],[1340,340]],[[1270,755],[1290,755],[1290,770],[1270,770]],[[1415,870],[1440,860],[1440,930],[1420,910]],[[910,925],[950,930],[960,950],[910,950]]]
const swRivers = [[[500,100],[560,190],[640,270]],[[690,340],[740,370],[830,395]],[[720,260],[790,250],[870,265]],[[730,350],[790,320],[900,340]],[[350,240],[370,290]],[[330,330],[345,430]],[[430,260],[470,240]],[[930,520],[1040,440],[1150,350],[1150,250],[1220,340],[1240,460],[1240,480],[1310,450],[1360,510]],[[1150,340],[1230,350],[1240,290]],[[815,670],[810,770],[830,830],[840,850]],[[810,680],[890,620],[950,565],[990,620],[1080,590]],[[660,670],[740,730],[800,770]],[[570,860],[660,820],[750,760],[740,740]],[[820,880],[760,960],[720,970]],[[840,850],[910,830]],[[920,930],[1000,960],[1140,965]],[[1130,760],[1190,760],[1250,730]],[[1370,120],[1370,200]],[[1240,480],[1440,370]],[[720,430],[790,440]],[[750,490],[770,490]],[[770,560],[830,560]],[[780,610],[810,600]],[[600,150],[660,150]]]
const swWater = [[[1390,575],[1425,575],[1425,605],[1395,605]],[[1095,545],[1115,540],[1115,570],[1098,570]]]

// ---- map c, south east crop ----
const seGreen = [[[0,185],[40,185],[40,240],[0,240]],[[105,250],[150,250],[150,270],[105,270]],[[210,220],[270,185],[270,250],[210,250]],[[535,255],[695,255],[695,360],[650,350],[640,300],[540,300]],[[705,145],[770,145],[790,190],[705,180]],[[305,510],[350,510],[350,590],[305,590]],[[360,530],[400,530],[390,620],[360,660],[350,620]],[[305,650],[335,640],[335,760],[305,760]],[[310,360],[380,340],[375,440],[320,440]],[[500,810],[540,760],[580,840],[520,850]],[[640,460],[700,450],[700,515],[650,500]],[[940,140],[990,50],[1040,50],[1020,180],[950,180]],[[1050,10],[1120,0],[1100,70],[1060,70]],[[1110,260],[1160,260],[1170,310],[1120,310]],[[1240,320],[1300,340],[1290,450],[1240,440]],[[1190,320],[1230,320],[1230,400],[1200,380]],[[5,530],[90,530],[90,560],[10,570]],[[525,645],[670,645],[660,660],[620,660],[620,750],[540,745],[520,710],[550,660]],[[705,620],[740,620],[735,680],[705,680]],[[0,410],[20,410],[20,460],[0,460]],[[530,30],[600,60],[600,80],[535,80]],[[690,0],[710,0],[700,50]]]
const seWet = [[[545,300],[640,310],[640,350],[590,340],[540,320]],[[660,1140],[750,1140],[745,1170],[670,1175]],[[660,440],[700,440],[700,510]],[[0,490],[30,490],[30,530],[0,530]],[[510,430],[550,430],[550,450],[510,450]],[[560,660],[600,670],[590,720],[550,720]],[[1110,330],[1160,330],[1140,370]],[[0,610],[12,610],[12,680],[0,680]],[[470,1150],[490,1150],[490,1210],[470,1210]],[[1030,60],[1060,100],[1060,170],[1040,150]],[[770,320],[800,380],[770,370]],[[720,350],[745,350],[735,400]],[[770,530],[830,570],[800,590]],[[730,700],[770,690],[730,740]],[[930,620],[965,620],[960,670],[930,670]],[[610,960],[650,980],[640,1000]],[[700,840],[790,840],[790,855],[700,855]]]
const seRed = [[[290,110],[340,40],[400,0],[430,0],[470,40],[500,130],[470,170],[370,230],[340,300],[400,320],[310,340],[280,400],[300,460],[360,480],[390,520],[360,600],[340,590],[340,510],[290,470],[270,410],[300,330],[290,260],[310,200]],[[0,250],[100,280],[200,270],[290,250],[290,270],[200,285],[90,300],[0,270]],[[760,0],[1000,0],[960,100],[940,180],[1010,190],[1060,190],[1120,230],[1110,320],[1170,340],[1210,430],[1170,470],[1090,440],[1000,420],[960,480],[1060,560],[1090,590],[1050,630],[1000,570],[950,510],[920,450],[930,330],[890,280],[890,240],[800,180]],[[1300,340],[1340,360],[1360,400],[1300,390]],[[1100,60],[1140,60],[1150,110],[1190,180],[1105,190]],[[1290,460],[1365,450],[1365,470],[1290,475]],[[820,365],[870,365],[870,420],[845,420],[845,380]],[[845,470],[895,470],[895,500],[845,500]],[[705,440],[760,410],[780,470],[730,480],[745,565],[705,530]],[[1180,510],[1210,510],[1190,530]],[[770,660],[830,590],[880,620],[870,690],[810,690]],[[720,760],[760,720],[800,730],[830,795],[770,780],[720,780]],[[710,860],[810,850],[780,885],[740,900]],[[820,710],[860,760],[845,765]],[[270,850],[540,845],[570,880],[600,900],[540,930],[520,980],[440,1000],[380,990],[330,930],[300,880]],[[385,780],[440,770],[460,795],[425,830],[400,820]],[[95,695],[135,680],[140,720],[200,800],[250,845],[230,850],[160,770],[100,720]],[[60,930],[100,960],[160,940],[160,1060],[120,1020],[70,1010]],[[220,1040],[270,1010],[310,1040],[290,1080],[230,1070]],[[170,1170],[210,1120],[265,1120],[260,1170],[190,1180]],[[0,1130],[60,1090],[100,1060],[100,1100],[50,1120],[0,1140]],[[0,115],[40,110],[80,100],[40,140],[10,130]],[[0,340],[30,340],[0,365]],[[470,275],[490,275],[490,290],[470,290]]]
const seRivers = [[[0,20],[80,40],[170,100]],[[80,290],[70,400],[70,510]],[[100,200],[90,270]],[[240,840],[180,930],[130,960]],[[380,990],[320,1030]],[[450,1000],[500,1050],[560,1085]],[[540,970],[560,1010]],[[320,770],[345,840]],[[340,620],[340,760]],[[400,570],[470,550]],[[230,610],[310,590],[340,600]],[[590,830],[670,820],[700,770]],[[790,680],[700,760]],[[880,620],[980,550]],[[1130,310],[1220,210]],[[0,960],[50,1000]],[[900,520],[950,510]],[[500,60],[480,0]]]
const seWater = [[[392,1175],[410,1175],[410,1222],[392,1222]],[[1205,262],[1225,262],[1225,285],[1205,285]]]
const seBlack = [[[785,495],[810,495],[805,515],[785,510]]]

// flow chart texts
const labelLU = ['LU map']
const labelFema = ['FEMA map']
const labelReclass = ['Reclass FEMA zone', 'A to residential']
const labelGrow = ['Grow Cells in a GIS to', 'expand the existing LU', 'and make it', 'comparable in', 'percentage']
const labelCalc = ['Calculate the percentage of', 'FEMA Zone A']
const labelRun = ['Run SWAT model and', 'compare results']

const width = 1962
const height = 2595

const svg = d3.select('#chart').append('svg')
  .attr('width', width)
  .attr('height', height)
  .style('display', 'block')

const defs = svg.append('defs')

function marker (id, color, w) {
  defs.append('marker')
    .attr('id', id)
    .attr('viewBox', '0 0 10 10')
    .attr('refX', 9.5)
    .attr('refY', 5)
    .attr('markerUnits', 'userSpaceOnUse')
    .attr('markerWidth', w)
    .attr('markerHeight', w)
    .attr('orient', 'auto')
    .append('path')
    .attr('d', 'M0,0L10,5L0,10Z')
    .attr('fill', color)
}
marker('arrowBlue', '#3c64c0', 20)
marker('arrowGreen', '#2f9a55', 18)

// jagged edges and speckle for the raster maps
function roughFilter (id, scale, seed) {
  const f = defs.append('filter').attr('id', id)
    .attr('color-interpolation-filters', 'sRGB')
    .attr('x', '-5%').attr('y', '-5%').attr('width', '110%').attr('height', '110%')
  f.append('feTurbulence').attr('type', 'fractalNoise').attr('baseFrequency', 0.1)
    .attr('numOctaves', 2).attr('seed', seed).attr('result', 'n')
  f.append('feDisplacementMap').attr('in', 'SourceGraphic').attr('in2', 'n')
    .attr('scale', scale).attr('xChannelSelector', 'R').attr('yChannelSelector', 'G')
  f.append('feGaussianBlur').attr('stdDeviation', 0.7)
}
roughFilter('roughB', 7, 4)
roughFilter('roughC', 9, 9)

function speckFilter (id, rgb, freq, cut, seed) {
  const f = defs.append('filter').attr('id', id)
    .attr('color-interpolation-filters', 'sRGB')
    .attr('x', 0).attr('y', 0).attr('width', 1).attr('height', 1)
  f.append('feTurbulence').attr('type', 'fractalNoise').attr('baseFrequency', freq)
    .attr('numOctaves', 1).attr('seed', seed)
  f.append('feColorMatrix').attr('values',
    `0 0 0 0 ${rgb[0]} 0 0 0 0 ${rgb[1]} 0 0 0 0 ${rgb[2]} 14 0 0 0 ${-14 * cut}`)
}
speckFilter('speckB', [0.62, 0.75, 0.62], 0.11, 0.66, 2)
speckFilter('speckC', [0.84, 0.78, 0.26], 0.085, 0.64, 5)

// ---- panel a ----
const flow = svg.append('g')

function panelLabel (txt, x, y) {
  svg.append('text').attr('x', x).attr('y', y)
    .attr('font-size', 46).attr('font-weight', 'bold').attr('fill', '#000').text(txt)
}
panelLabel('a', 62, 72)
panelLabel('b', 1158, 72)
panelLabel('c', 384, 1376)

function box (x0, y0, x1, y1, fill) {
  flow.append('rect').attr('x', x0).attr('y', y0)
    .attr('width', x1 - x0).attr('height', y1 - y0)
    .attr('fill', fill).attr('stroke', '#5a5a5a').attr('stroke-width', 2)
}

function cylinder (x0, y0, xTopL, xTopR, x1, y1, xInner, fill) {
  const h = y1 - y0
  flow.append('path')
    .attr('d', `M${xTopL},${y0} L${xTopR},${y0} Q${x1 + (x1 - xTopR)},${y0 + h / 2} ${xTopR},${y1} L${xTopL},${y1} Q${x0 - (xTopL - x0)},${y0 + h / 2} ${xTopL},${y0}Z`)
    .attr('fill', fill).attr('stroke', '#4a4a4a').attr('stroke-width', 2)
  flow.append('path')
    .attr('d', `M${xTopR},${y0} Q${xInner - (xTopR - xInner)},${y0 + h / 2} ${xTopR},${y1}`)
    .attr('fill', 'none').attr('stroke', '#3a3a3a').attr('stroke-width', 2)
}

function flowText (lines, cx, firstBase) {
  flow.append('g').selectAll('text').data(lines).enter().append('text')
    .attr('x', cx)
    .attr('y', (d, i) => firstBase + i * 34.5)
    .attr('text-anchor', 'middle')
    .attr('font-size', 28.8)
    .attr('font-weight', 'bold')
    .attr('fill', '#1a1a1a')
    .text(d => d)
}

function arrow (d, color, w, head, dash) {
  flow.append('path').attr('d', d).attr('fill', 'none')
    .attr('stroke', color).attr('stroke-width', w)
    .attr('stroke-dasharray', dash || null)
    .attr('marker-end', `url(#${head})`)
}

box(118, 32, 429, 217, '#f2f2f2')
box(575, 32, 914, 234, '#f2f2f2')
cylinder(575, 372, 601, 914, 940, 574, 889, '#ffff99')
box(575, 692, 983, 935, '#ccffcc')
cylinder(50, 697, 80, 441, 470, 930, 411, '#ccffcc')
flow.append('path')
  .attr('d', 'M486,979 L697,1107 L486,1234 L275,1107 Z')
  .attr('fill', '#ccffff').attr('stroke', '#5a5a5a').attr('stroke-width', 2)

arrow('M251,217 Q245,235 245,258 L245,697', '#3c64c0', 5, 'arrowBlue')
arrow('M745,234 L745,370', '#3c64c0', 5, 'arrowBlue')
arrow('M745,574 L746,690', '#3c64c0', 5, 'arrowBlue')
arrow('M149,930 L149,1107 L273,1107', '#3c64c0', 5, 'arrowBlue')
arrow('M779,935 L779,1107 L699,1107', '#3c64c0', 5, 'arrowBlue')
arrow('M575,813 L442,813', '#2f9a55', 2.5, 'arrowGreen', '46 22 70 0')

flowText(labelLU, 273, 134)
flowText(labelFema, 745, 141)
flowText(labelReclass, 745, 465)
flowText(labelGrow, 245, 753)
flowText(labelCalc, 779, 805)
flowText(labelRun, 484, 1098)

// ---- shared map helpers ----
// one pair of scales per crop the values were read from
function cropScales (x0, y0, sx, sy, size) {
  return {
    x: d3.scaleLinear().domain([0, size[0]]).range([x0, x0 + size[0] / sx]),
    y: d3.scaleLinear().domain([0, size[1]]).range([y0, y0 + size[1] / sy])
  }
}
function polyLine (s) {
  return d3.line().x(d => s.x(d[0])).y(d => s.y(d[1])).curve(d3.curveLinearClosed)
}
function polygons (g, data, s, color) {
  g.append('g').selectAll('path').data(data).enter().append('path')
    .attr('d', polyLine(s)).attr('fill', color)
}
function cells (g, data, s, color) {
  g.append('g').selectAll('rect').data(data).enter().append('rect')
    .attr('x', d => s.x(d[0]))
    .attr('y', d => s.y(d[1]))
    .attr('width', d => s.x(d[2]) - s.x(d[0]))
    .attr('height', d => s.y(d[3]) - s.y(d[1]))
    .attr('fill', color)
}

// ---- panel b map ----
const sB = { x: d3.scaleLinear().domain([0, 1568]).range([1120, 1962]), y: d3.scaleLinear().domain([0, 1568]).range([0, 1100]) }
const sBn = cropScales(1300, 30, 3, 3, [1500, 1560])
const sBs = cropScales(1140, 540, 1568 / 680, 1568 / 530, [1568, 1568])

defs.append('clipPath').attr('id', 'clipB').append('path').attr('d', polyLine(sB)(bOutline))

const bColors = { brown: '#c8960a', lime: '#c4f55a', teal: '#66f0c8', orange: '#ff7400', amber: '#ff9a00', gold: '#ffc800', yellow: '#ffff30', wet: '#93bfc0', sky: '#35c0f2', blue: '#3060f5', urban: '#cf0000' }

const mapB = svg.append('g').attr('filter', 'url(#roughB)')
const mapBIn = mapB.append('g').attr('clip-path', 'url(#clipB)')
mapBIn.append('path').attr('d', polyLine(sB)(bOutline)).attr('fill', bColors.brown)
mapBIn.append('rect').attr('x', 1120).attr('y', 0).attr('width', 842).attr('height', 1100)
  .attr('filter', 'url(#speckB)')
polygons(mapBIn, bnLime, sBn, bColors.lime)
polygons(mapBIn, bsLime, sBs, bColors.lime)
polygons(mapBIn, bnTeal, sBn, bColors.teal)
polygons(mapBIn, bsTeal, sBs, bColors.teal)
polygons(mapBIn, bnOrange, sBn, bColors.orange)
polygons(mapBIn, bsOrange, sBs, bColors.orange)
polygons(mapBIn, bnAmber, sBn, bColors.amber)
polygons(mapBIn, bsAmber, sBs, bColors.amber)
polygons(mapBIn, bnGold, sBn, bColors.gold)
polygons(mapBIn, bnWet, sBn, bColors.wet)
polygons(mapBIn, bsWet, sBs, bColors.wet)
polygons(mapBIn, bWetland, sB, bColors.wet)
polygons(mapBIn, bSky, sB, bColors.sky)
polygons(mapBIn, bnSky, sBn, bColors.sky)
polygons(mapBIn, bsSky, sBs, bColors.sky)
polygons(mapBIn, bnYellow, sBn, bColors.yellow)
polygons(mapBIn, bsYellow, sBs, bColors.yellow)
polygons(mapBIn, bnBlue, sBn, bColors.blue)
polygons(mapBIn, bsBlue, sBs, bColors.blue)

const urbanB = svg.append('g').attr('filter', 'url(#softB)')
defs.append('filter').attr('id', 'softB').append('feGaussianBlur').attr('stdDeviation', 0.8)
cells(urbanB, bnCells, sBn, bColors.urban)
cells(urbanB, bsCells, sBs, bColors.urban)
cells(urbanB, bUrbanCells, sB, bColors.urban)
polygons(urbanB, bUrbanShapes, sB, bColors.urban)
polygons(urbanB, bsShapes, sBs, bColors.urban)
polygons(urbanB, bBrownHoles, sB, bColors.brown)

// ---- panel b legend ----
const legB = svg.append('g')
legB.append('text').attr('x', 1156).attr('y', 1133)
  .attr('font-size', 26).attr('font-weight', 'bold').attr('fill', '#111')
  .text('2004 Expanded Urban 14 cells')

const colB = d3.scaleOrdinal().domain([0, 1, 2, 3, 4, 5]).range([1156, 1278, 1397, 1515, 1633, 1753])
const rowB = d3.scalePoint().domain([0, 1, 2]).range([1167, 1237])
const itemB = legB.selectAll('g.item').data(legendBLabels).enter().append('g')
  .attr('class', 'item')
  .attr('transform', (d, i) => `translate(${colB(Math.floor(i / 3))},${rowB(i % 3)})`)
itemB.append('rect').attr('x', 0).attr('y', -13).attr('width', 52).attr('height', 26)
  .attr('fill', (d, i) => legendBColors[i]).attr('stroke', '#777').attr('stroke-width', 1.5)
itemB.append('text').attr('x', 61).attr('y', 7)
  .attr('font-size', 19).attr('fill', '#222').text(d => d)

// ---- panel c legend ----
const legC = svg.append('g')
const rowC = d3.scalePoint().domain(d3.range(8)).range([1386, 1671])
function legendCItem (label, color, cy) {
  legC.append('rect').attr('x', 481).attr('y', cy - 15).attr('width', 61).attr('height', 30).attr('fill', color)
  legC.append('text').attr('x', 552).attr('y', cy + 8).attr('font-size', 22).attr('fill', '#222').text(label)
}
legendCLabels.forEach((d, i) => legendCItem(d, legendCColors[i], rowC(i)))
legC.append('text').attr('x', 481).attr('y', 1680)
  .attr('font-size', 25.7).attr('font-weight', 'bold').attr('fill', '#111').text('FEMA_A_1300')
legendCItem('1300', legendCColors[0], 1712)

// ---- panel c map ----
const sC = { x: d3.scaleLinear().domain([0, 1568]).range([460, 1440]), y: d3.scaleLinear().domain([0, 1568]).range([1380, 2595]) }
const sNe = cropScales(880, 1400, 1568 / 540, 3, [1568, 1260])
const sWm = cropScales(640, 1780, 3, 3, [1200, 1260])
const sEm = cropScales(1020, 1780, 3, 3, [1200, 1260])
const sSw = cropScales(480, 2180, 3, 3, [1440, 1245])
const sSe = cropScales(960, 2180, 3, 3, [1380, 1245])

const cColors = { crop: '#ffa20f', red: '#dd0000', green: '#33a010', wet: '#66c8a8', water: '#1a5fd0' }

defs.append('clipPath').attr('id', 'clipC').append('path').attr('d', polyLine(sC)(cOutline))

const mapC = svg.append('g').attr('filter', 'url(#roughC)')
const mapCIn = mapC.append('g').attr('clip-path', 'url(#clipC)')
mapCIn.append('path').attr('d', polyLine(sC)(cOutline)).attr('fill', cColors.crop)
mapCIn.append('rect').attr('x', 460).attr('y', 1380).attr('width', 980).attr('height', 1215)
  .attr('filter', 'url(#speckC)')

function rivers (data, s, w) {
  const line = d3.line().x(d => s.x(d[0])).y(d => s.y(d[1])).curve(d3.curveCatmullRom)
  mapCIn.append('g').selectAll('path').data(data).enter().append('path')
    .attr('d', line).attr('fill', 'none')
    .attr('stroke', cColors.red).attr('stroke-width', w).attr('stroke-linecap', 'round')
}

polygons(mapCIn, neGreen, sNe, cColors.green)
polygons(mapCIn, neWet, sNe, cColors.wet)
polygons(mapCIn, wmGreen, sWm, cColors.green)
polygons(mapCIn, wmWet, sWm, cColors.wet)
polygons(mapCIn, swGreen, sSw, cColors.green)
polygons(mapCIn, swWet, sSw, cColors.wet)
polygons(mapCIn, seGreen, sSe, cColors.green)
polygons(mapCIn, seWet, sSe, cColors.wet)
polygons(mapCIn, neRed, sNe, cColors.red)
rivers(neRivers, sNe, 3)
rivers(neRoads, sNe, 2.4)
polygons(mapCIn, wmRed, sWm, cColors.red)
rivers(wmRivers, sWm, 3.4)
polygons(mapCIn, swRed, sSw, cColors.red)
rivers(swRivers, sSw, 3)
polygons(mapCIn, seRed, sSe, cColors.red)
rivers(seRivers, sSe, 3)
polygons(mapCIn, swWater, sSw, cColors.water)
polygons(mapCIn, seWater, sSe, cColors.water)
polygons(mapCIn, seBlack, sSe, '#000')

polygons(mapCIn, emBelt, sEm, cColors.red)
polygons(mapCIn, emIslands, sEm, cColors.crop)
polygons(mapCIn, emGreen, sEm, cColors.green)
polygons(mapCIn, emWet, sEm, cColors.wet)
polygons(mapCIn, emRed, sEm, cColors.red)
rivers(emRivers, sEm, 3)
polygons(mapCIn, emWater, sEm, cColors.water)
polygons(mapCIn, emBlack, sEm, '#000')
polygons(mapCIn, cTrans, sC, '#000')
</script>
</body>
</html>
